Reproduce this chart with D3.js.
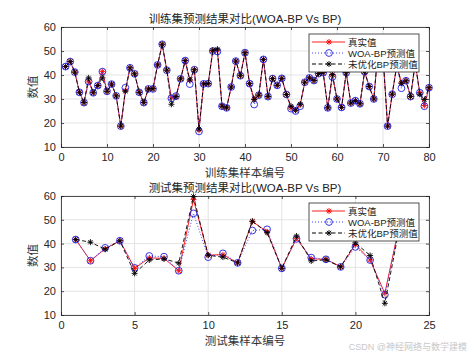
<!DOCTYPE html>
<html><head><meta charset="utf-8">
<script src="https://cdn.jsdelivr.net/npm/d3@7"></script>
<style>body{margin:0;background:#fff}svg{display:block}</style>
</head><body>
<svg id="c" width="474" height="355"></svg>
<script>
// ---------- data ----------
const trainTrue=[43.5,45.6,41.2,32.8,28.5,37.5,32.6,35.6,41.4,33.2,
 36.2,31.3,18.7,33.5,43,40.5,32.8,28.5,34.2,34.3,
 44.2,52.8,42,30.5,31,38.4,46,37.8,42.2,17,
 36.3,36.4,50,50.3,27,26.3,35,45.8,39.7,49.3,
 36.4,30,31.6,46.5,31,38.5,35.7,38.6,31.9,26.3,
 25.3,27.6,37,38.8,37.7,40.6,41,26.3,40,30,
 26.5,41,28.3,29.3,28,41.4,35.2,30,52,48,
 18.7,32,44,36.8,37.6,31,45,32.6,27.3,34.7];
const trainWOA=[43.5,45.6,41.2,32.8,28.5,37.3,32.6,35.6,41.4,33.2,
 36.2,31.3,18.7,34.7,43,40.5,32.8,28.5,34.2,34.2,
 44.2,52.8,42,30.3,31.2,38.4,46,36.2,42.2,16.5,
 36.3,36.4,50,49.8,27,26.3,35,45.8,39.7,49.3,
 36.4,27.7,31.6,46.5,31,38.5,35.7,38.6,31.9,26,
 25,27,37,38.8,37.7,40.6,41,26.3,39.2,30,
 26.5,41,28.3,29.3,28,41.4,35.2,30,52,48,
 18.7,32,44,34.5,37.6,31,45,32.6,27,34.7];
const trainBP=[43.5,45.6,41.2,32.8,28.5,38.8,32.6,35.6,38.8,33.2,
 36.2,31.3,18.7,33.2,43,40.5,32.8,28.5,34.2,34.3,
 44.2,52.8,42,27.8,31,38.4,46,38,42.2,17.5,
 36.3,36.4,50.3,50.8,27,26.3,35,45.8,39.7,49.3,
 36.4,29.8,31.6,46.5,31,38.5,35.7,38.6,31.9,27,
 25.3,27.8,37,38.8,37.7,40.6,41,26.3,40.2,30,
 26.5,41,28.3,29.3,28,41.4,35.2,30,52,48,
 18.7,32,44,36.5,37.6,31,45,32,29.8,34.7];

const testTrue=[41.7,32.8,37.8,41.2,29.6,34,33.8,28.6,58.5,35.2,
 35.3,31.9,49.3,45,29.6,42.2,33.6,33.4,30.3,39.6,
 33.1,19.1,48];
const testWOA=[41.7,32.8,38.2,41.2,29.8,34.8,34.5,28.6,52.7,34.3,
 35.9,31.9,45.5,46,29.6,42,34.1,33.4,30.2,38.6,
 33.1,18.5,48];
const testBP=[41.7,40.6,37.6,41.2,27.5,33.1,33.6,31.8,59.8,35.1,
 34.3,31.9,49.4,44.6,29.6,43.2,32.7,33.2,30.2,40.3,
 35,14.9,47];

const yTicks=[10,20,30,40,50,60];
const trainXTicks=[0,10,20,30,40,50,60,70,80];
const testXTicks=[0,5,10,15,20,25];
const legendLabels=["真实值","WOA-BP预测值","未优化BP预测值"];
const titles=["训练集预测结果对比(WOA-BP Vs BP)","测试集预测结果对比(WOA-BP Vs BP)"];
const xLabels=["训练集样本编号","测试集样本编号"];
const yLabel="数值";
const watermark="CSDN @神经网络与数学建模";

// ---------- drawing ----------
const FONT="'Liberation Sans', Arial, 'Noto Sans CJK SC', sans-serif";
const svg=d3.select("#c");
const axisColor="#262626";

function starPath(s){
  const k=s*0.72;
  return `M${-s},0L${s},0M0,${-s}L0,${s}M${-k},${-k}L${k},${k}M${-k},${k}L${k},${-k}`;
}

function panel(cfg){
  const {left,right,top,bottom,xMax,xTicks,tv,wv,bv,title,xLabel}=cfg;
  const x=d3.scaleLinear().domain([0,xMax]).range([left,right]);
  const y=d3.scaleLinear().domain([10,60]).range([bottom,top]);
  const g=svg.append("g");
  // grid
  g.append("g").selectAll("line").data(xTicks).join("line")
    .attr("x1",d=>x(d)).attr("x2",d=>x(d)).attr("y1",top).attr("y2",bottom)
    .attr("stroke","#e3e3e3").attr("stroke-width",1);
  g.append("g").selectAll("line").data(yTicks).join("line")
    .attr("x1",left).attr("x2",right).attr("y1",d=>y(d)).attr("y2",d=>y(d))
    .attr("stroke","#e3e3e3").attr("stroke-width",1);
  // axes
  g.append("g").attr("transform",`translate(0,${bottom})`)
    .call(d3.axisBottom(x).tickValues(xTicks).tickSize(-3).tickPadding(6).tickFormat(d3.format("d")));
  g.append("g").attr("transform",`translate(${left},0)`)
    .call(d3.axisLeft(y).tickValues(yTicks).tickSize(-3).tickPadding(5).tickFormat(d3.format("d")));
  g.append("g").attr("transform",`translate(0,${top})`)
    .call(d3.axisTop(x).tickValues(xTicks).tickSize(-3).tickFormat(""));
  g.append("g").attr("transform",`translate(${right},0)`)
    .call(d3.axisRight(y).tickValues(yTicks).tickSize(-3).tickFormat(""));
  g.selectAll(".domain").attr("stroke",axisColor).attr("stroke-width",0.8);
  g.selectAll(".tick line").attr("stroke",axisColor).attr("stroke-width",0.8);
  g.selectAll(".tick text").attr("fill",axisColor).style("font-family",FONT).style("font-size","11px");

  const idx=tv.map((_,i)=>i+1);
  const line=vals=>d3.line().x((d,i)=>x(idx[i])).y(d=>y(d))(vals);
  const m=g.append("g");
  // true: red solid with *
  m.append("path").attr("d",line(tv)).attr("fill","none").attr("stroke","#ff2020").attr("stroke-width",1);
  m.selectAll("path.ts").data(tv).join("path").attr("class","ts")
    .attr("d",starPath(3)).attr("transform",(d,i)=>`translate(${x(idx[i])},${y(d)})`)
    .attr("stroke","#ff0000").attr("stroke-width",0.9).attr("fill","none");
  // WOA: blue dotted with o
  m.append("path").attr("d",line(wv)).attr("fill","none").attr("stroke","#4040ff").attr("stroke-width",1).attr("stroke-dasharray","1,2");
  m.selectAll("circle.wc").data(wv).join("circle").attr("class","wc")
    .attr("cx",(d,i)=>x(idx[i])).attr("cy",d=>y(d)).attr("r",3.4)
    .attr("fill","none").attr("stroke","#2020e0").attr("stroke-width",0.9);
  // BP: black dashed with *
  m.append("path").attr("d",line(bv)).attr("fill","none").attr("stroke","#000").attr("stroke-width",0.9).attr("stroke-dasharray","4,2.5");
  m.selectAll("path.bs").data(bv).join("path").attr("class","bs")
    .attr("d",starPath(3)).attr("transform",(d,i)=>`translate(${x(idx[i])},${y(d)})`)
    .attr("stroke","#000").attr("stroke-width",0.9).attr("fill","none");

  // title / labels
  g.append("text").attr("x",(left+right)/2).attr("y",top-4).attr("text-anchor","middle")
    .style("font-family",FONT).style("font-size","11.5px").attr("fill","#222").text(title);
  g.append("text").attr("x",(left+right)/2).attr("y",bottom+30).attr("text-anchor","middle")
    .style("font-family",FONT).style("font-size","11.5px").attr("fill","#333").text(xLabel);
  g.append("text").attr("transform",`translate(${left-24},${(top+bottom)/2}) rotate(-90)`)
    .attr("text-anchor","middle").style("font-family",FONT).style("font-size","11.5px").attr("fill","#333").text(yLabel);

  // legend
  const lx=309, lw=110, ly=top+7, lh=38;
  const lg=g.append("g");
  lg.append("rect").attr("x",lx).attr("y",ly).attr("width",lw).attr("height",lh)
    .attr("fill","#fff").attr("stroke",axisColor).attr("stroke-width",0.8);
  const styles=[
    {stroke:"#ff2020",dash:null,m:"star",mc:"#ff0000"},
    {stroke:"#4040ff",dash:"1,2",m:"circle",mc:"#2020e0"},
    {stroke:"#000",dash:"4,2.5",m:"star",mc:"#000"}];
  legendLabels.forEach((lab,i)=>{
    const cy=ly+8+i*11;
    const s=styles[i];
    lg.append("line").attr("x1",lx+3).attr("x2",lx+36).attr("y1",cy).attr("y2",cy)
      .attr("stroke",s.stroke).attr("stroke-width",1).attr("stroke-dasharray",s.dash);
    if(s.m==="star") lg.append("path").attr("d",starPath(3)).attr("transform",`translate(${lx+20},${cy})`)
      .attr("stroke",s.mc).attr("stroke-width",0.9).attr("fill","none");
    else lg.append("circle").attr("cx",lx+20).attr("cy",cy).attr("r",3.4).attr("fill","none").attr("stroke",s.mc).attr("stroke-width",0.9);
    lg.append("text").attr("x",lx+39).attr("y",cy+3.5).style("font-family",FONT).style("font-size","9.5px")
      .attr("fill","#222").text(lab);
  });
}

panel({left:61,right:429,top:27,bottom:147,xMax:80,xTicks:trainXTicks,tv:trainTrue,wv:trainWOA,bv:trainBP,title:titles[0],xLabel:xLabels[0]});
panel({left:61,right:429,top:196,bottom:315,xMax:25,xTicks:testXTicks,tv:testTrue,wv:testWOA,bv:testBP,title:titles[1],xLabel:xLabels[1]});

svg.append("text").attr("x",467).attr("y",350).attr("text-anchor","end")
  .style("font-family",FONT).style("font-size","9px").attr("fill","#c8c8c8").text(watermark);
</script>
</body></html>
